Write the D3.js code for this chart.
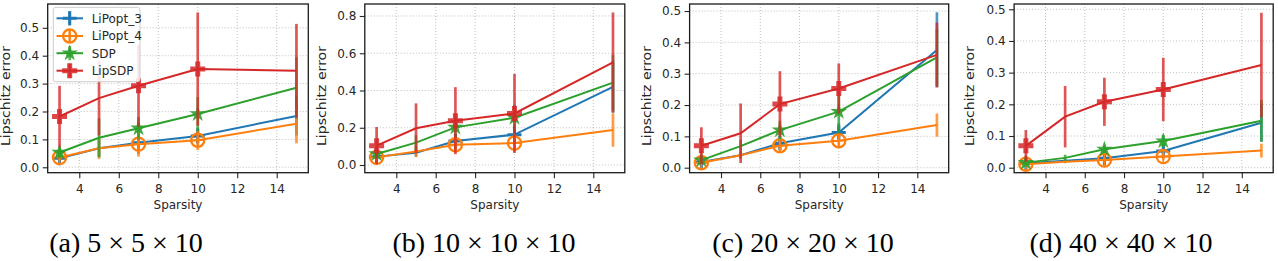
<!DOCTYPE html>
<html><head><meta charset="utf-8">
<script src="https://cdn.jsdelivr.net/npm/d3@7"></script>
<style>body{margin:0;background:#fff}svg{display:block}</style>
</head><body>
<script>
// ---------------- data ----------------
const sparsity = [3, 5, 7, 10, 15];
const markedSparsity = [3, 7, 10];
const seriesNames = ["LiPopt_3", "LiPopt_4", "SDP", "LipSDP"];
const xTicks = [4, 6, 8, 10, 12, 14];
const yTicksA = [0, 0.1, 0.2, 0.3, 0.4, 0.5];
const yTicksB = [0, 0.2, 0.4, 0.6, 0.8];
const yTicksC = [0, 0.1, 0.2, 0.3, 0.4, 0.5];
const yTicksD = [0, 0.1, 0.2, 0.3, 0.4, 0.5];
const captions = ["(a) 5 \u00d7 5 \u00d7 10", "(b) 10 \u00d7 10 \u00d7 10", "(c) 20 \u00d7 20 \u00d7 10", "(d) 40 \u00d7 40 \u00d7 10"];

// panel (a) 5x5x10 : rows = LiPopt_3, LiPopt_4, SDP, LipSDP
const meanA = [
  [0.032, 0.068, 0.088, 0.112, 0.184],
  [0.035, 0.068, 0.083, 0.097, 0.156],
  [0.053, 0.106, 0.140, 0.191, 0.285],
  [0.182, 0.248, 0.292, 0.352, 0.346]];
const errA = [
  [0.010, 0.030, 0.040, 0.030, 0.070],
  [0.010, 0.038, 0.045, 0.035, 0.070],
  [0.020, 0.070, 0.040, 0.060, 0.110],
  [0.110, 0.134, 0.147, 0.203, 0.168]];
// panel (b) 10x10x10
const meanB = [
  [0.045, 0.066, 0.129, 0.163, 0.420],
  [0.041, 0.072, 0.109, 0.118, 0.188],
  [0.059, 0.120, 0.202, 0.254, 0.442],
  [0.104, 0.197, 0.238, 0.277, 0.551]];
const errB = [
  [0.010, 0.020, 0.030, 0.050, 0.140],
  [0.010, 0.030, 0.040, 0.050, 0.090],
  [0.020, 0.040, 0.050, 0.070, 0.150],
  [0.100, 0.134, 0.180, 0.212, 0.268]];
// panel (c) 20x20x10
const meanC = [
  [0.018, 0.040, 0.078, 0.112, 0.376],
  [0.016, 0.040, 0.070, 0.086, 0.136],
  [0.024, 0.069, 0.120, 0.179, 0.352],
  [0.070, 0.110, 0.203, 0.253, 0.360]];
const errC = [
  [0.005, 0.010, 0.020, 0.030, 0.120],
  [0.005, 0.010, 0.015, 0.020, 0.037],
  [0.010, 0.020, 0.030, 0.070, 0.090],
  [0.059, 0.095, 0.105, 0.080, 0.103]];
// panel (d) 40x40x10
const meanD = [
  [0.014, 0.022, 0.030, 0.053, 0.142],
  [0.011, 0.019, 0.024, 0.035, 0.054],
  [0.016, 0.031, 0.058, 0.084, 0.148],
  [0.069, 0.161, 0.208, 0.247, 0.324]];
const errD = [
  [0.003, 0.005, 0.010, 0.020, 0.060],
  [0.003, 0.005, 0.008, 0.010, 0.022],
  [0.005, 0.010, 0.012, 0.020, 0.066],
  [0.050, 0.097, 0.076, 0.100, 0.165]];

// ---------------- style / layout ----------------
const colors = ["#1f77b4", "#ff7f0e", "#2ca02c", "#d62728"];
const markerKinds = ["plus", "oplus", "star", "pfill"];
const W = 1278, H = 261;
const plotTop = 4, plotBottom = 172.7;
const xDomain = [2.4, 15.6];
const panels = [
  {mean: meanA, err: errA, yTicks: yTicksA, left: 47.7, right: 308.3, yDom: [-0.0194, 0.5853], ylabX: 10, capX: 126},
  {mean: meanB, err: errB, yTicks: yTicksB, left: 364.8, right: 624.8, yDom: [-0.0413, 0.8644], ylabX: 326, capX: 484},
  {mean: meanC, err: errC, yTicks: yTicksC, left: 689.6, right: 948.7, yDom: [-0.016, 0.5225], ylabX: 651, capX: 803},
  {mean: meanD, err: errD, yTicks: yTicksD, left: 1014.1, right: 1273.2, yDom: [-0.0158, 0.5167], ylabX: 974, capX: 1121}
];
const FONT = "'DejaVu Sans', sans-serif";
const TXT = "#262626";
const FS = "12px";

const svg = d3.select("body").append("svg").attr("width", W).attr("height", H);
svg.append("rect").attr("width", W).attr("height", H).attr("fill", "#fff");

function drawMarker(g, kind, color, cx, cy) {
  const m = g.append("g").attr("transform", `translate(${cx},${cy})`);
  if (kind === "plus") {
    m.append("path").attr("d", "M-7,0H7M0,-7V7").attr("stroke", color).attr("stroke-width", 3).attr("fill", "none");
  } else if (kind === "oplus") {
    m.append("circle").attr("r", 6.6).attr("fill", "none").attr("stroke", color).attr("stroke-width", 2.3);
    m.append("path").attr("d", "M-6.6,0H6.6M0,-6.6V6.6").attr("stroke", color).attr("stroke-width", 1.7).attr("fill", "none");
  } else if (kind === "star") {
    m.append("path").attr("d", d3.symbol().type(d3.symbolStar).size(85)()).attr("fill", color).attr("fill-opacity", 0.9);
  } else if (kind === "pfill") {
    m.append("path").attr("d", d3.symbol().type(d3.symbolCross).size(125)()).attr("fill", color).attr("fill-opacity", 0.85);
  }
}

panels.forEach((p, pi) => {
  const g = svg.append("g");
  const x = d3.scaleLinear().domain(xDomain).range([p.left, p.right]);
  const y = d3.scaleLinear().domain(p.yDom).range([plotBottom, plotTop]);

  // grid
  const grid = g.append("g").attr("stroke", "#b0b0b0").attr("stroke-width", 0.8).attr("stroke-dasharray", "1,2");
  xTicks.forEach(t => grid.append("line").attr("x1", x(t)).attr("x2", x(t)).attr("y1", plotTop).attr("y2", plotBottom));
  p.yTicks.forEach(t => grid.append("line").attr("x1", p.left).attr("x2", p.right).attr("y1", y(t)).attr("y2", y(t)));

  // axes
  const xa = g.append("g").attr("transform", `translate(0,${plotBottom})`)
    .call(d3.axisBottom(x).tickValues(xTicks).tickFormat(d3.format("d")).tickSize(5.5).tickPadding(6));
  const ya = g.append("g").attr("transform", `translate(${p.left},0)`)
    .call(d3.axisLeft(y).tickValues(p.yTicks).tickFormat(d3.format(".1f")).tickSize(5).tickPadding(3.5));
  [xa, ya].forEach(a => {
    a.select(".domain").remove();
    a.selectAll(".tick line").attr("stroke", TXT).attr("stroke-width", 1.1);
    a.selectAll(".tick text").attr("fill", TXT).style("font-family", FONT).style("font-size", FS);
  });

  // series
  const line = d3.line().x((d, i) => x(sparsity[i])).y(d => y(d));
  seriesNames.forEach((name, si) => {
    const sg = g.append("g");
    const mean = p.mean[si], err = p.err[si];
    sparsity.forEach((s, i) => {
      sg.append("line").attr("x1", x(s)).attr("x2", x(s))
        .attr("y1", y(mean[i] - err[i])).attr("y2", y(mean[i] + err[i]))
        .attr("stroke", colors[si]).attr("stroke-width", 2.7).attr("stroke-opacity", 0.78);
    });
    sg.append("path").attr("d", line(mean)).attr("fill", "none").attr("stroke", colors[si]).attr("stroke-width", 2);
    sparsity.forEach((s, i) => {
      if (markedSparsity.includes(s)) drawMarker(sg, markerKinds[si], colors[si], x(s), y(mean[i]));
    });
  });

  // frame
  g.append("rect").attr("x", p.left).attr("y", plotTop).attr("width", p.right - p.left).attr("height", plotBottom - plotTop)
    .attr("fill", "none").attr("stroke", "#1a1a1a").attr("stroke-width", 1.3);

  // labels
  g.append("text").attr("x", (p.left + p.right) / 2).attr("y", 209).attr("text-anchor", "middle")
    .attr("fill", TXT).style("font-family", FONT).style("font-size", FS).text("Sparsity");
  g.append("text").attr("transform", `translate(${p.ylabX},96) rotate(-90)`).attr("text-anchor", "middle")
    .attr("textLength", 100).attr("lengthAdjust", "spacingAndGlyphs")
    .attr("fill", TXT).style("font-family", FONT).style("font-size", FS).text("Lipschitz error");

  // caption
  svg.append("text").attr("x", p.capX).attr("y", 252).attr("text-anchor", "middle")
    .attr("fill", "#000").style("font-family", "'Liberation Serif', 'Times New Roman', serif").style("font-size", "28px")
    .text(captions[pi]);

  // legend in first panel
  if (pi === 0) {
    const lg = g.append("g");
    lg.append("rect").attr("x", 53.3).attr("y", 7.3).attr("width", 86.7).attr("height", 74.4).attr("rx", 2.5)
      .attr("fill", "#fff").attr("fill-opacity", 0.85).attr("stroke", "#cccccc").attr("stroke-width", 1);
    const rowsY = [18.3, 36, 53.2, 70.7];
    seriesNames.forEach((name, si) => {
      const ry = rowsY[si];
      lg.append("line").attr("x1", 69.7).attr("x2", 69.7).attr("y1", ry - 7).attr("y2", ry + 7)
        .attr("stroke", colors[si]).attr("stroke-width", 2.7).attr("stroke-opacity", 0.78);
      lg.append("line").attr("x1", 56.5).attr("x2", 83).attr("y1", ry).attr("y2", ry)
        .attr("stroke", colors[si]).attr("stroke-width", 2);
      drawMarker(lg, markerKinds[si], colors[si], 69.7, ry);
      lg.append("text").attr("x", 91.7).attr("y", ry).attr("dy", "0.36em").attr("fill", TXT)
        .style("font-family", FONT).style("font-size", FS).text(name);
    });
  }
});
</script>
</body></html>
